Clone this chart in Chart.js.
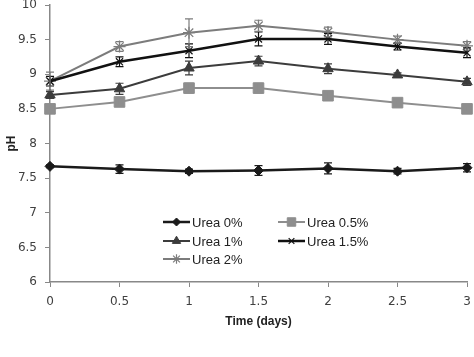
<!DOCTYPE html>
<html>
<head>
<meta charset="utf-8">
<script src="https://cdn.jsdelivr.net/npm/chart.js@4.4.1/dist/chart.umd.min.js"></script>
<style>
html,body{margin:0;padding:0;background:#fff;}
#wrap{position:relative;width:474px;height:357px;}
</style>
</head>
<body>
<div id="wrap"><canvas id="c"></canvas></div>
<script>
// ---- data ----
const days = [0, 0.5, 1, 1.5, 2, 2.5, 3];
const seriesLabels = ['Urea 0%', 'Urea 0.5%', 'Urea 1%', 'Urea 1.5%', 'Urea 2%'];
const urea0  = [7.67, 7.63, 7.60, 7.61, 7.64, 7.60, 7.65];
const urea05 = [8.50, 8.60, 8.80, 8.80, 8.69, 8.59, 8.50];
const urea1  = [8.70, 8.79, 9.09, 9.19, 9.08, 8.99, 8.89];
const urea15 = [8.90, 9.18, 9.34, 9.51, 9.51, 9.40, 9.31];
const urea2  = [8.90, 9.40, 9.60, 9.70, 9.61, 9.50, 9.41];
const err0   = [0.02, 0.06, 0.03, 0.07, 0.08, 0.04, 0.06];
const err05  = [0.03, 0.05, 0.07, 0.07, 0.06, 0.03, 0.04];
const err1   = [0.05, 0.08, 0.10, 0.07, 0.07, 0.03, 0.05];
const err15  = [0.07, 0.07, 0.10, 0.10, 0.08, 0.05, 0.07];
const err2   = [0.13, 0.07, 0.20, 0.08, 0.07, 0.05, 0.06];
const yTicks = [6, 6.5, 7, 7.5, 8, 8.5, 9, 9.5, 10];
const xTicks = [0, 0.5, 1, 1.5, 2, 2.5, 3];
const xTitle = 'Time (days)';
const yTitle = 'pH';

const values = [urea0, urea05, urea1, urea15, urea2];
const errors = [err0, err05, err1, err15, err2];
const styles = [
  {color:'#1a1a1a', pt:'rectRot', r:5, bw:2.5, pbw:1},
  {color:'#8e8e8e', pt:'rect', r:7.5, bw:2, pbw:1},
  {color:'#3c3c3c', pt:'triangle', r:6, bw:2, pbw:1},
  {color:'#111111', pt:'crossRot', r:5, bw:2.5, pbw:1.2},
  {color:'#7c7c7c', pt:'star', r:6, bw:2, pbw:1.2}
];

const datasets = values.map((v, i) => ({
  label: seriesLabels[i],
  data: days.map((d, j) => ({x: d, y: v[j]})),
  borderColor: styles[i].color,
  backgroundColor: styles[i].color,
  pointBackgroundColor: styles[i].color,
  pointBorderColor: styles[i].color,
  pointStyle: styles[i].pt,
  pointRadius: styles[i].r,
  pointBorderWidth: styles[i].pbw,
  borderWidth: styles[i].bw,
  tension: 0,
  clip: false,
  errors: errors[i]
}));

const errorBars = {
  id: 'errorBars',
  afterDatasetsDraw(chart) {
    const ctx = chart.ctx;
    const ys = chart.scales.y;
    chart.data.datasets.forEach((ds, i) => {
      const meta = chart.getDatasetMeta(i);
      ctx.save();
      ctx.strokeStyle = ds.borderColor;
      ctx.lineWidth = 1.2;
      meta.data.forEach((pt, j) => {
        const v = ds.data[j].y, e = ds.errors[j];
        const yt = ys.getPixelForValue(v + e), yb = ys.getPixelForValue(v - e);
        const x = pt.x;
        ctx.beginPath();
        ctx.moveTo(x, yt); ctx.lineTo(x, yb);
        ctx.moveTo(x - 4, yt); ctx.lineTo(x + 4, yt);
        ctx.moveTo(x - 4, yb); ctx.lineTo(x + 4, yb);
        ctx.stroke();
      });
      ctx.restore();
    });
  }
};

const insideLegend = {
  id: 'insideLegend',
  afterDraw(chart) {
    const ctx = chart.ctx;
    const pos = [[163, 222], [278, 222], [163, 241], [278, 241], [163, 259]];
    chart.data.datasets.forEach((ds, i) => {
      const [x, y] = pos[i];
      ctx.save();
      ctx.strokeStyle = ds.borderColor;
      ctx.lineWidth = ds.borderWidth;
      ctx.beginPath(); ctx.moveTo(x, y); ctx.lineTo(x + 27, y); ctx.stroke();
      ctx.fillStyle = ds.borderColor;
      ctx.lineWidth = ds.pointBorderWidth;
      Chart.helpers.drawPoint(ctx, {pointStyle: ds.pointStyle, radius: ds.pointRadius * 0.8, rotation: 0, borderWidth: ds.pointBorderWidth}, x + 13.5, y);
      ctx.fillStyle = '#222';
      ctx.font = '13px "Liberation Sans", Arial, sans-serif';
      ctx.textBaseline = 'middle';
      ctx.textAlign = 'left';
      ctx.fillText(ds.label, x + 29, y + 1);
      ctx.restore();
    });
  }
};

new Chart(document.getElementById('c'), {
  type: 'line',
  data: {datasets},
  plugins: [errorBars, insideLegend],
  options: {
    responsive: true,
    maintainAspectRatio: false,
    animation: false,
    layout: {autoPadding: false, padding: {top: 5, right: 7, left: 0, bottom: 24}},
    plugins: {legend: {display: false}, tooltip: {enabled: false}},
    scales: {
      x: {
        type: 'linear', min: 0, max: 3,
        afterBuildTicks: s => { s.ticks = xTicks.map(v => ({value: v})); },
        afterFit: s => { s.height = 51; s.paddingLeft = 0; s.paddingRight = 0; },
        grid: {display: true, drawOnChartArea: false, tickLength: 5, color: '#888'},
        border: {color: '#888', width: 1.5},
        ticks: {padding: 8, color: '#404040', font: {family: '"DejaVu Sans", Verdana, sans-serif', size: 12}, maxRotation: 0,
                callback: v => String(v)},
        title: {display: true, text: xTitle, color: '#222', font: {family: '"Liberation Sans", Arial, sans-serif', size: 12, weight: 'bold'}}
      },
      y: {
        type: 'linear', min: 6, max: 10,
        afterBuildTicks: s => { s.ticks = yTicks.map(v => ({value: v})); },
        afterFit: s => { s.width = 50; s.paddingTop = 0; s.paddingBottom = 0; },
        grid: {display: true, drawOnChartArea: false, tickLength: 5, color: '#888'},
        border: {color: '#888', width: 1.5},
        ticks: {padding: 8, color: '#404040', font: {family: '"DejaVu Sans", Verdana, sans-serif', size: 12},
                callback: v => String(v)},
        title: {display: true, text: yTitle, color: '#222', font: {family: '"Liberation Sans", Arial, sans-serif', size: 12, weight: 'bold'}}
      }
    }
  }
});
</script>
</body>
</html>
